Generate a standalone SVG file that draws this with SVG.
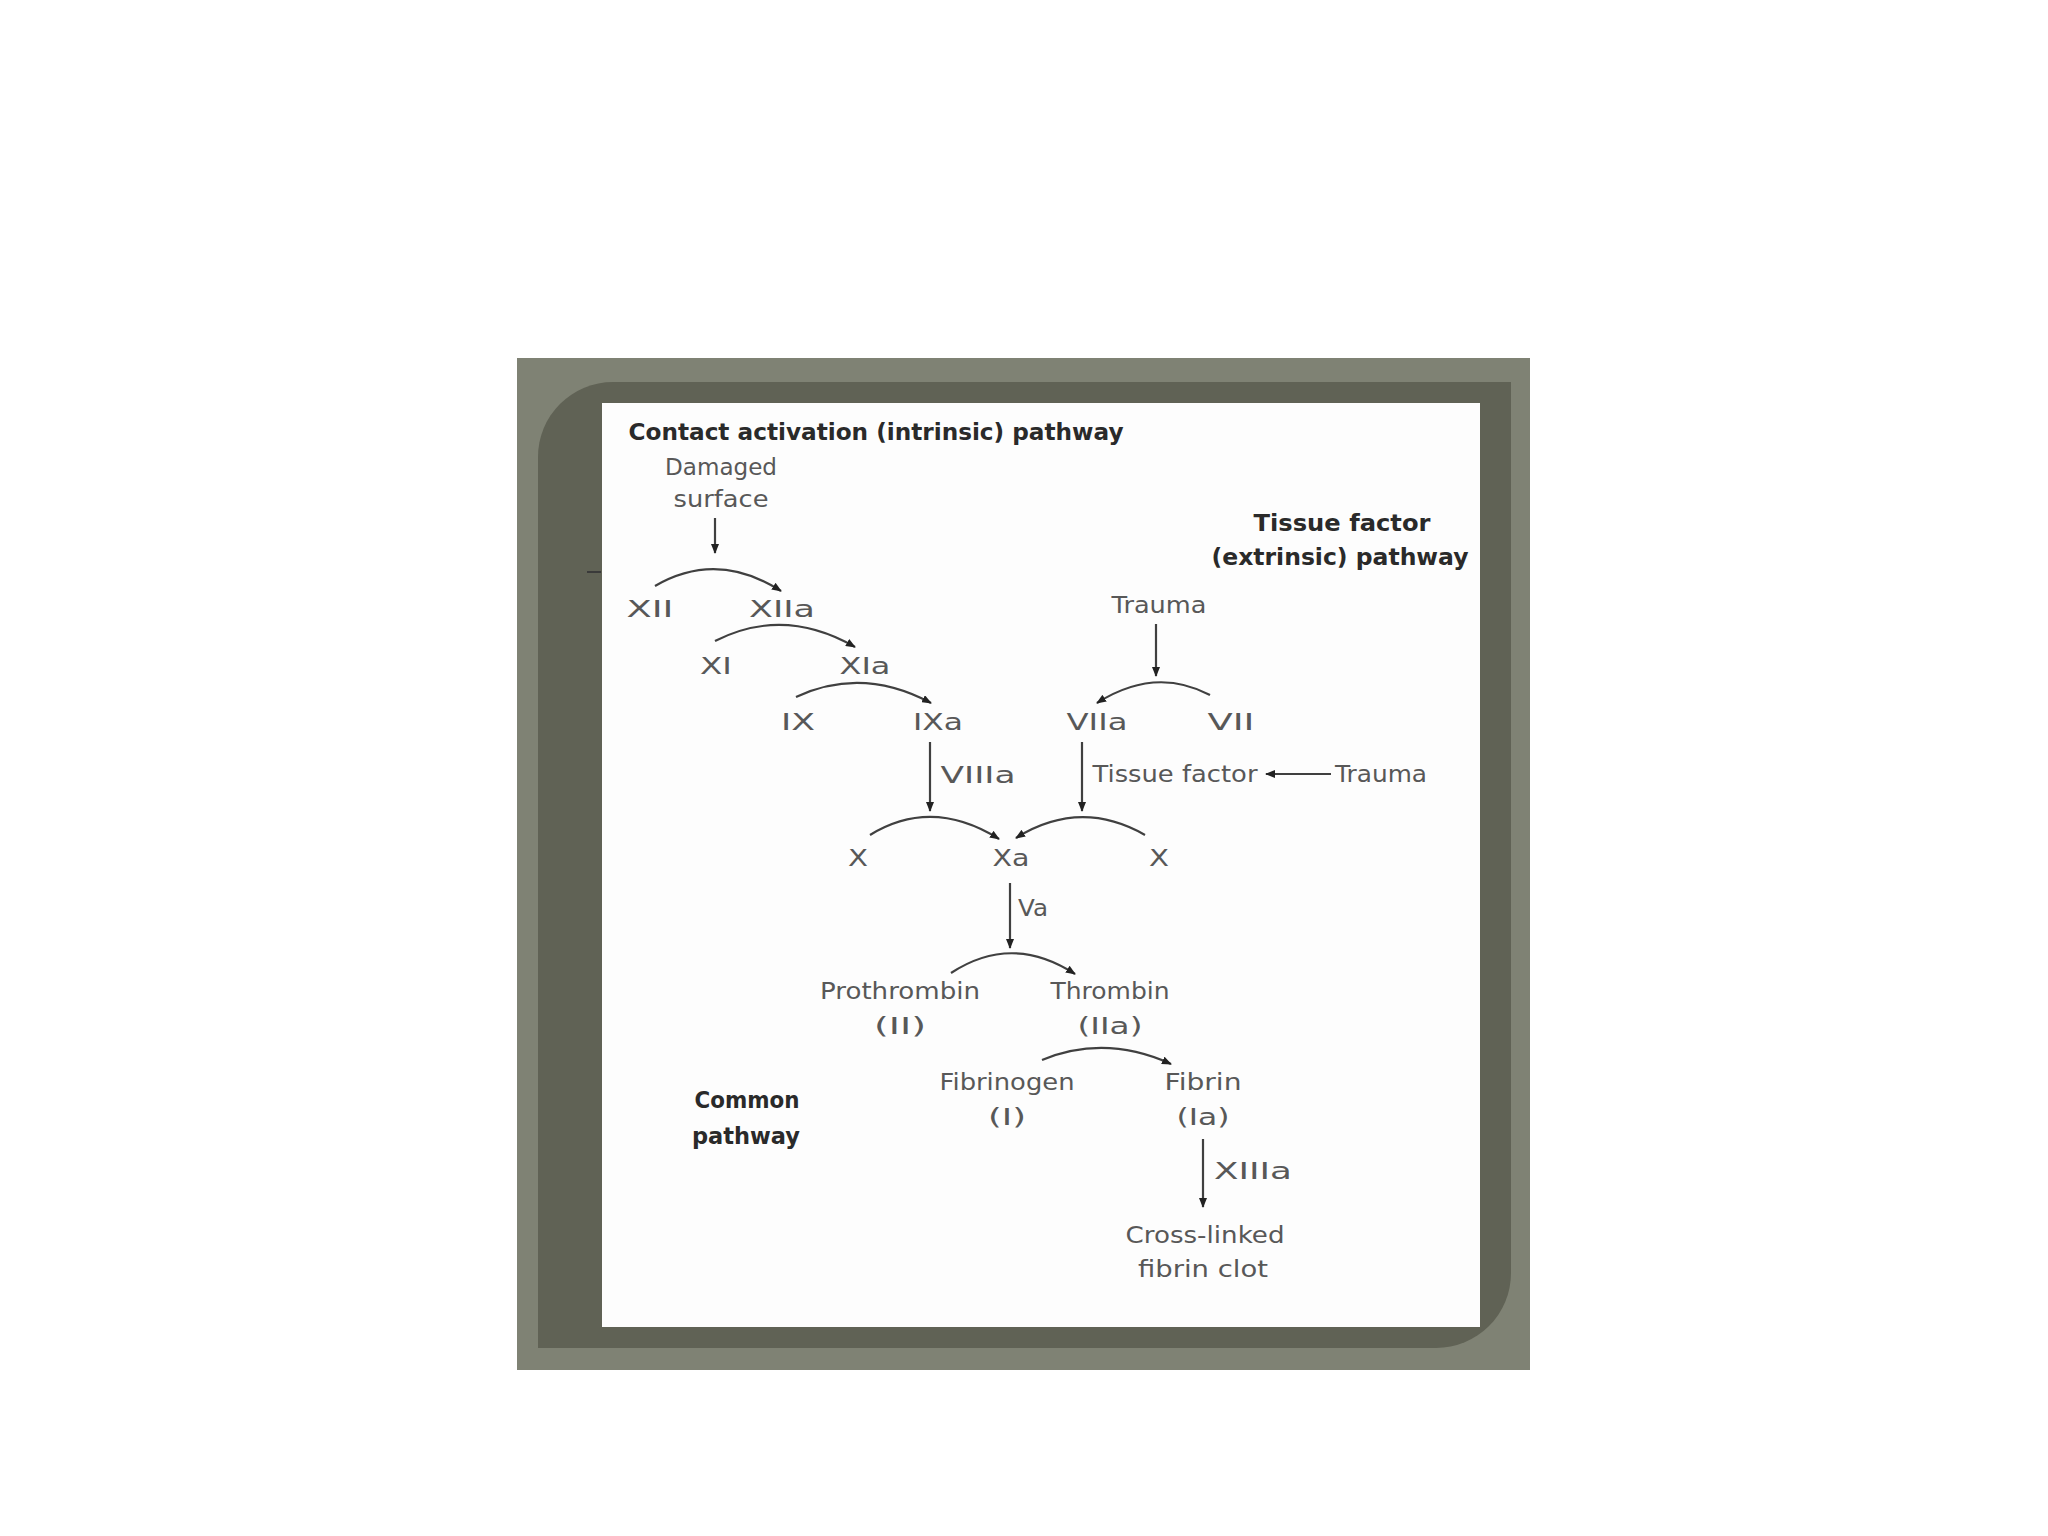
<svg xmlns="http://www.w3.org/2000/svg" width="2048" height="1536" viewBox="0 0 2048 1536">
<defs>
<style>
.lbl{font-family:"DejaVu Sans","Liberation Sans",sans-serif;font-size:23px;fill:#585858;text-anchor:middle}
.hd{font-family:"DejaVu Sans","Liberation Sans",sans-serif;font-size:23px;font-weight:bold;fill:#2a2a2a;text-anchor:middle}
.ln{fill:none;stroke:#404040;stroke-width:2.2}
</style>
<marker id="ah" viewBox="0 0 10 8" refX="9" refY="4" markerWidth="10" markerHeight="8" markerUnits="userSpaceOnUse" orient="auto">
<path d="M0,0 L10,4 L0,8 Z" fill="#222"/>
</marker>
</defs>
<rect width="2048" height="1536" fill="#ffffff"/>
<g id="frame">
<rect x="517" y="358" width="1013" height="1012" fill="#7f8274"/>
<path d="M613,382 H1511 V1273 A75,75 0 0 1 1436,1348 H538 V457 A75,75 0 0 1 613,382 Z" fill="#606255"/>
<rect x="602" y="403" width="878" height="924" fill="#fdfdfd"/>
<line x1="587" y1="572" x2="601" y2="572" stroke="#3a3a3a" stroke-width="2"/>
</g>
<g id="headings">
<text class="hd" x="876" y="440" textLength="495" lengthAdjust="spacingAndGlyphs">Contact activation (intrinsic) pathway</text>
<text class="hd" x="1342" y="531" textLength="177" lengthAdjust="spacingAndGlyphs">Tissue factor</text>
<text class="hd" x="1340" y="565" textLength="257" lengthAdjust="spacingAndGlyphs">(extrinsic) pathway</text>
<text class="hd" x="747" y="1108" textLength="105" lengthAdjust="spacingAndGlyphs">Common</text>
<text class="hd" x="746" y="1144" textLength="108" lengthAdjust="spacingAndGlyphs">pathway</text>
</g>
<g id="n-damaged"><text class="lbl" x="721" y="475" textLength="112" lengthAdjust="spacingAndGlyphs">Damaged</text><text class="lbl" x="721" y="507" textLength="95" lengthAdjust="spacingAndGlyphs">surface</text></g>
<g id="n-xii"><text class="lbl" x="650" y="617" textLength="47" lengthAdjust="spacingAndGlyphs">XII</text></g>
<g id="n-xiia"><text class="lbl" x="782" y="617" textLength="66" lengthAdjust="spacingAndGlyphs">XIIa</text></g>
<g id="n-xi"><text class="lbl" x="716" y="674" textLength="32" lengthAdjust="spacingAndGlyphs">XI</text></g>
<g id="n-xia"><text class="lbl" x="865" y="674" textLength="51" lengthAdjust="spacingAndGlyphs">XIa</text></g>
<g id="n-ix"><text class="lbl" x="798" y="730" textLength="34" lengthAdjust="spacingAndGlyphs">IX</text></g>
<g id="n-ixa"><text class="lbl" x="938" y="730" textLength="50" lengthAdjust="spacingAndGlyphs">IXa</text></g>
<g id="n-trauma1"><text class="lbl" x="1159" y="613" textLength="95" lengthAdjust="spacingAndGlyphs">Trauma</text></g>
<g id="n-viia"><text class="lbl" x="1097" y="730" textLength="61" lengthAdjust="spacingAndGlyphs">VIIa</text></g>
<g id="n-vii"><text class="lbl" x="1231" y="730" textLength="47" lengthAdjust="spacingAndGlyphs">VII</text></g>
<g id="n-tf"><text class="lbl" x="1175" y="782" textLength="165" lengthAdjust="spacingAndGlyphs">Tissue factor</text></g>
<g id="n-trauma2"><text class="lbl" x="1381" y="782" textLength="92" lengthAdjust="spacingAndGlyphs">Trauma</text></g>
<g id="n-x1"><text class="lbl" x="858" y="866" textLength="20" lengthAdjust="spacingAndGlyphs">X</text></g>
<g id="n-xa"><text class="lbl" x="1011" y="866" textLength="37" lengthAdjust="spacingAndGlyphs">Xa</text></g>
<g id="n-x2"><text class="lbl" x="1159" y="866" textLength="20" lengthAdjust="spacingAndGlyphs">X</text></g>
<g id="n-prothrombin"><text class="lbl" x="900" y="999" textLength="160" lengthAdjust="spacingAndGlyphs">Prothrombin</text><text class="lbl" x="900" y="1034" textLength="52" lengthAdjust="spacingAndGlyphs">(II)</text></g>
<g id="n-thrombin"><text class="lbl" x="1110" y="999" textLength="119" lengthAdjust="spacingAndGlyphs">Thrombin</text><text class="lbl" x="1110" y="1034" textLength="65" lengthAdjust="spacingAndGlyphs">(IIa)</text></g>
<g id="n-fibrinogen"><text class="lbl" x="1007" y="1090" textLength="135" lengthAdjust="spacingAndGlyphs">Fibrinogen</text><text class="lbl" x="1007" y="1125" textLength="38" lengthAdjust="spacingAndGlyphs">(I)</text></g>
<g id="n-fibrin"><text class="lbl" x="1203" y="1090" textLength="77" lengthAdjust="spacingAndGlyphs">Fibrin</text><text class="lbl" x="1203" y="1125" textLength="53" lengthAdjust="spacingAndGlyphs">(Ia)</text></g>
<g id="n-clot"><text class="lbl" x="1205" y="1243" textLength="159" lengthAdjust="spacingAndGlyphs">Cross-linked</text><text class="lbl" x="1203" y="1277" textLength="130" lengthAdjust="spacingAndGlyphs">fibrin clot</text></g>
<g id="connectors">
<line class="ln" x1="715" y1="518" x2="715" y2="553" marker-end="url(#ah)"/>
<path class="ln" d="M655,586 Q717,550 781,591" marker-end="url(#ah)"/>
<path class="ln" d="M715,641 Q784,606 855,647" marker-end="url(#ah)"/>
<path class="ln" d="M796,697 Q862,666 931,703" marker-end="url(#ah)"/>
<line class="ln" x1="1156" y1="624" x2="1156" y2="676" marker-end="url(#ah)"/>
<path class="ln" d="M1210,695 Q1155,666 1097,703" marker-end="url(#ah)"/>
<line class="ln" x1="930" y1="742" x2="930" y2="811" marker-end="url(#ah)"/>
<text class="lbl" x="978" y="783" textLength="75" lengthAdjust="spacingAndGlyphs">VIIIa</text>
<line class="ln" x1="1082" y1="742" x2="1082" y2="811" marker-end="url(#ah)"/>
<line class="ln" x1="1331" y1="774" x2="1266" y2="774" marker-end="url(#ah)"/>
<path class="ln" d="M870,835 Q932,797 999,839" marker-end="url(#ah)"/>
<path class="ln" d="M1145,835 Q1080,798 1016,838" marker-end="url(#ah)"/>
<line class="ln" x1="1010" y1="883" x2="1010" y2="948" marker-end="url(#ah)"/>
<text class="lbl" x="1033" y="916" textLength="30" lengthAdjust="spacingAndGlyphs">Va</text>
<path class="ln" d="M951,973 Q1012,933 1075,974" marker-end="url(#ah)"/>
<path class="ln" d="M1042,1060 Q1105,1034 1171,1064" marker-end="url(#ah)"/>
<line class="ln" x1="1203" y1="1139" x2="1203" y2="1207" marker-end="url(#ah)"/>
<text class="lbl" x="1253" y="1179" textLength="78" lengthAdjust="spacingAndGlyphs">XIIIa</text>
</g>
</svg>
